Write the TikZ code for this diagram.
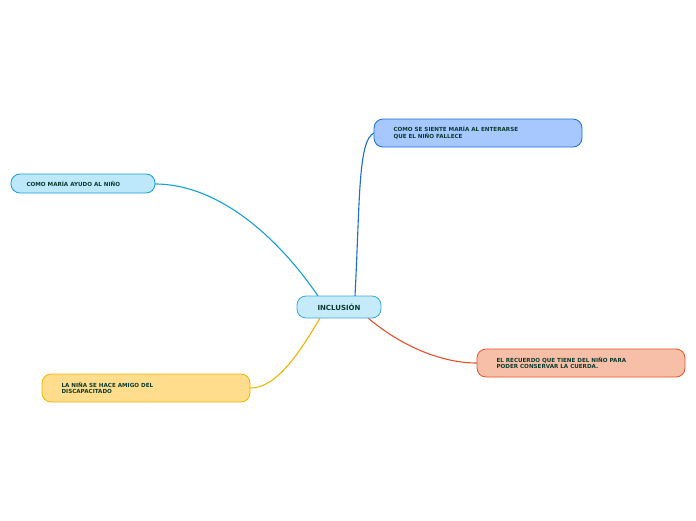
\documentclass[tikz,border=0pt]{standalone}
\usepackage{fontspec}
\setmainfont{DejaVu Sans}
\definecolor{tx}{HTML}{0B3B2E}
\begin{document}
\begin{tikzpicture}[x=1pt,y=-1pt,
 box/.style={rounded corners=9pt,line width=0.8pt,inner sep=0,anchor=north west},
 lab/.style={font=\bfseries\fontsize{5.6}{6.6}\selectfont,text=tx,align=left,anchor=west},
 con/.style={line width=1.1pt}]
\useasboundingbox (0,0) rectangle (696,520);
\definecolor{cB}{HTML}{C5EBFB}\definecolor{cBd}{HTML}{3DA6D6}
\definecolor{tB}{HTML}{A6C8FF}\definecolor{tBd}{HTML}{1C6BD6}
\definecolor{lB}{HTML}{BDE8FA}\definecolor{lBd}{HTML}{10A0E0}
\definecolor{yB}{HTML}{FFDD8C}\definecolor{yBd}{HTML}{F4B400}
\definecolor{rB}{HTML}{F8BFA8}\definecolor{rBd}{HTML}{E8502A}
% connectors
\coordinate (c1) at (318,296); \coordinate (c2) at (355,296);
\coordinate (c3) at (320,318); \coordinate (c4) at (368,318);
\coordinate (e1) at (155,184); \coordinate (e2) at (374,133);
\coordinate (e3) at (250,388); \coordinate (e4) at (477,363);
\draw[con,lBd] (c1) .. controls (280,240) and (220,184) .. (e1);
\draw[con,tBd] (c2) .. controls (360,200) and (358,140) .. (e2);
\draw[con,yBd] (c3) .. controls (290,370) and (270,388) .. (e3);
\draw[con,rBd] (c4) .. controls (400,345) and (440,363) .. (e4);
% boxes
\draw[box,fill=cB,draw=cBd] (297,296) rectangle (381,318);
\node[font=\bfseries\fontsize{7}{8}\selectfont,text=tx] (c) at (339,307.5) {INCLUSIÓN};
\draw[box,fill=tB,draw=tBd] (374,119) rectangle (582,147);
\node[lab] (t) at (390,133) {COMO SE SIENTE MARÍA AL ENTERARSE\\QUE EL NIÑO FALLECE};
\draw[box,fill=lB,draw=lBd] (11,174) rectangle (155,193);
\node[lab] (l) at (23,184) {COMO MARÍA AYUDO AL NIÑO};
\draw[box,fill=yB,draw=yBd] (42,374) rectangle (250,402);
\node[lab] (y) at (58,388) {LA NIÑA SE HACE AMIGO DEL\\DISCAPACITADO};
\draw[box,fill=rB,draw=rBd] (477,349) rectangle (685,377);
\node[lab] (r) at (493,363) {EL RECUERDO QUE TIENE DEL NIÑO PARA\\PODER CONSERVAR LA CUERDA.};
\end{tikzpicture}
\end{document}
